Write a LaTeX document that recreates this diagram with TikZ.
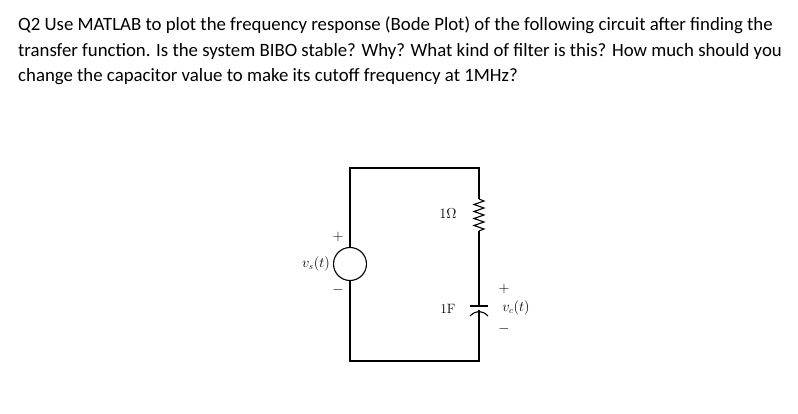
\documentclass[tikz,border=0pt]{standalone}
\usepackage{fontspec}
\usetikzlibrary{calc}
\newfontfamily\carlitofont{Carlito}
\begin{document}
\begin{tikzpicture}[x=1pt,y=-1pt,
  wire/.style={line width=1.1pt},
  lbl/.style={font=\fontsize{13.5}{15}\selectfont, inner sep=1pt},
  qtext/.style={anchor=west, font=\carlitofont\fontsize{18.8}{22}\selectfont, inner sep=0pt}]
\useasboundingbox (0,0) rectangle (798,414);
\node[qtext] (l1) at (18,25) {Q2 Use MATLAB to plot the frequency response (Bode Plot) of the following circuit after finding the};
\node[qtext] (l2) at (18,51) {transfer function. Is the system BIBO stable? Why? What kind of filter is this? How much should you};
\node[qtext] (l3) at (18,77) {change the capacitor value to make its cutoff frequency at 1MHz?};
% circuit
\coordinate (tl) at (350,168); \coordinate (tr) at (479,168);
\coordinate (bl) at (350,361); \coordinate (br) at (479,361);
\node[draw, circle, line width=1.1pt, minimum size=33, inner sep=0] (src) at (350,264) {};
\coordinate (r1) at (479,199); \coordinate (r2) at (479,231);
\coordinate (c1) at (479,306); \coordinate (c2) at (479,310);
\draw[wire] (src.north) -- (tl) -- (tr) -- (r1);
\draw[wire] (r1) -- ++(5,2) -- ++(-10,3.5) -- ++(10,3.5) -- ++(-10,3.5) -- ++(10,3.5) -- ++(-10,3.5) -- ++(10,3.5) -- ++(-10,3.5) -- ++(10,3.5) -- (r2);
\draw[wire] (r2) -- (c1);
\draw[wire] ($(c1)+(-9,0)$) -- ($(c1)+(9,0)$);
\draw[wire] ($(c2)+(-9,6)$) .. controls ($(c2)+(-3,0)$) and ($(c2)+(3,0)$) .. ($(c2)+(9,6)$);
\draw[wire] (c2) -- (br) -- (bl) -- (src.south);
\node[lbl] (vs) at (316,264) {$v_s(t)$};
\node[lbl] (sp) at (338,237) {$+$};
\node[lbl] (sm) at (338,290) {$-$};
\node[lbl] (R) at (448,214) {$1\Omega$};
\node[lbl] (C) at (448,309) {1F};
\node[lbl] (vc) at (516,308) {$v_c(t)$};
\node[lbl] (cp) at (504,289) {$+$};
\node[lbl] (cm) at (504,329) {$-$};
\end{tikzpicture}
\end{document}
